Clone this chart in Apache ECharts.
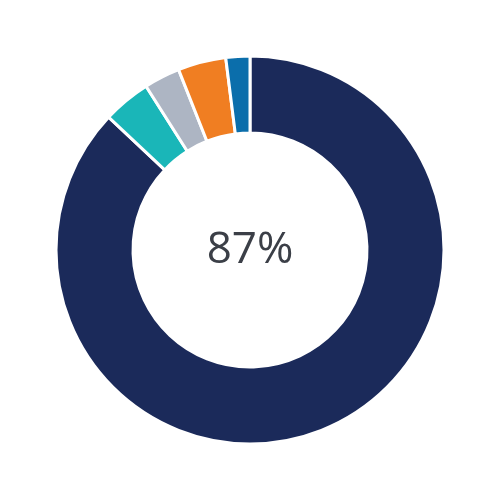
<!DOCTYPE html>
<html>
<head>
<meta charset="UTF-8">
<script src="https://cdn.jsdelivr.net/npm/echarts@6/dist/echarts.min.js"></script>
<style>html,body{margin:0;background:#fff}</style>
</head>
<body>
<div id="chart" style="width:500px;height:500px"></div>
<script>
var names = ['A', 'B', 'C', 'D', 'E'];
var values = [87, 4, 3, 4, 2];
var colors = ['#1b2a5a', '#1ab6b8', '#adb5c3', '#f07e22', '#0b6eab'];
var centerLabel = '87%';

var chart = echarts.init(document.getElementById('chart'));
chart.setOption({
    animation: false,
    color: colors,
    title: {
        text: centerLabel, left: 'center', top: 'middle',
        textStyle: { fontSize: 44, fontWeight: 'normal', color: '#3b3f47', fontFamily: 'Open Sans' }
    },
    series: [{
        type: 'pie',
        radius: [117, 194],
        center: ['50%', '50%'],
        startAngle: 90,
        label: { show: false },
        itemStyle: { borderColor: '#fff', borderWidth: 3 },
        data: names.map(function (n, i) { return { name: n, value: values[i] }; })
    }]
});
</script>
</body>
</html>
